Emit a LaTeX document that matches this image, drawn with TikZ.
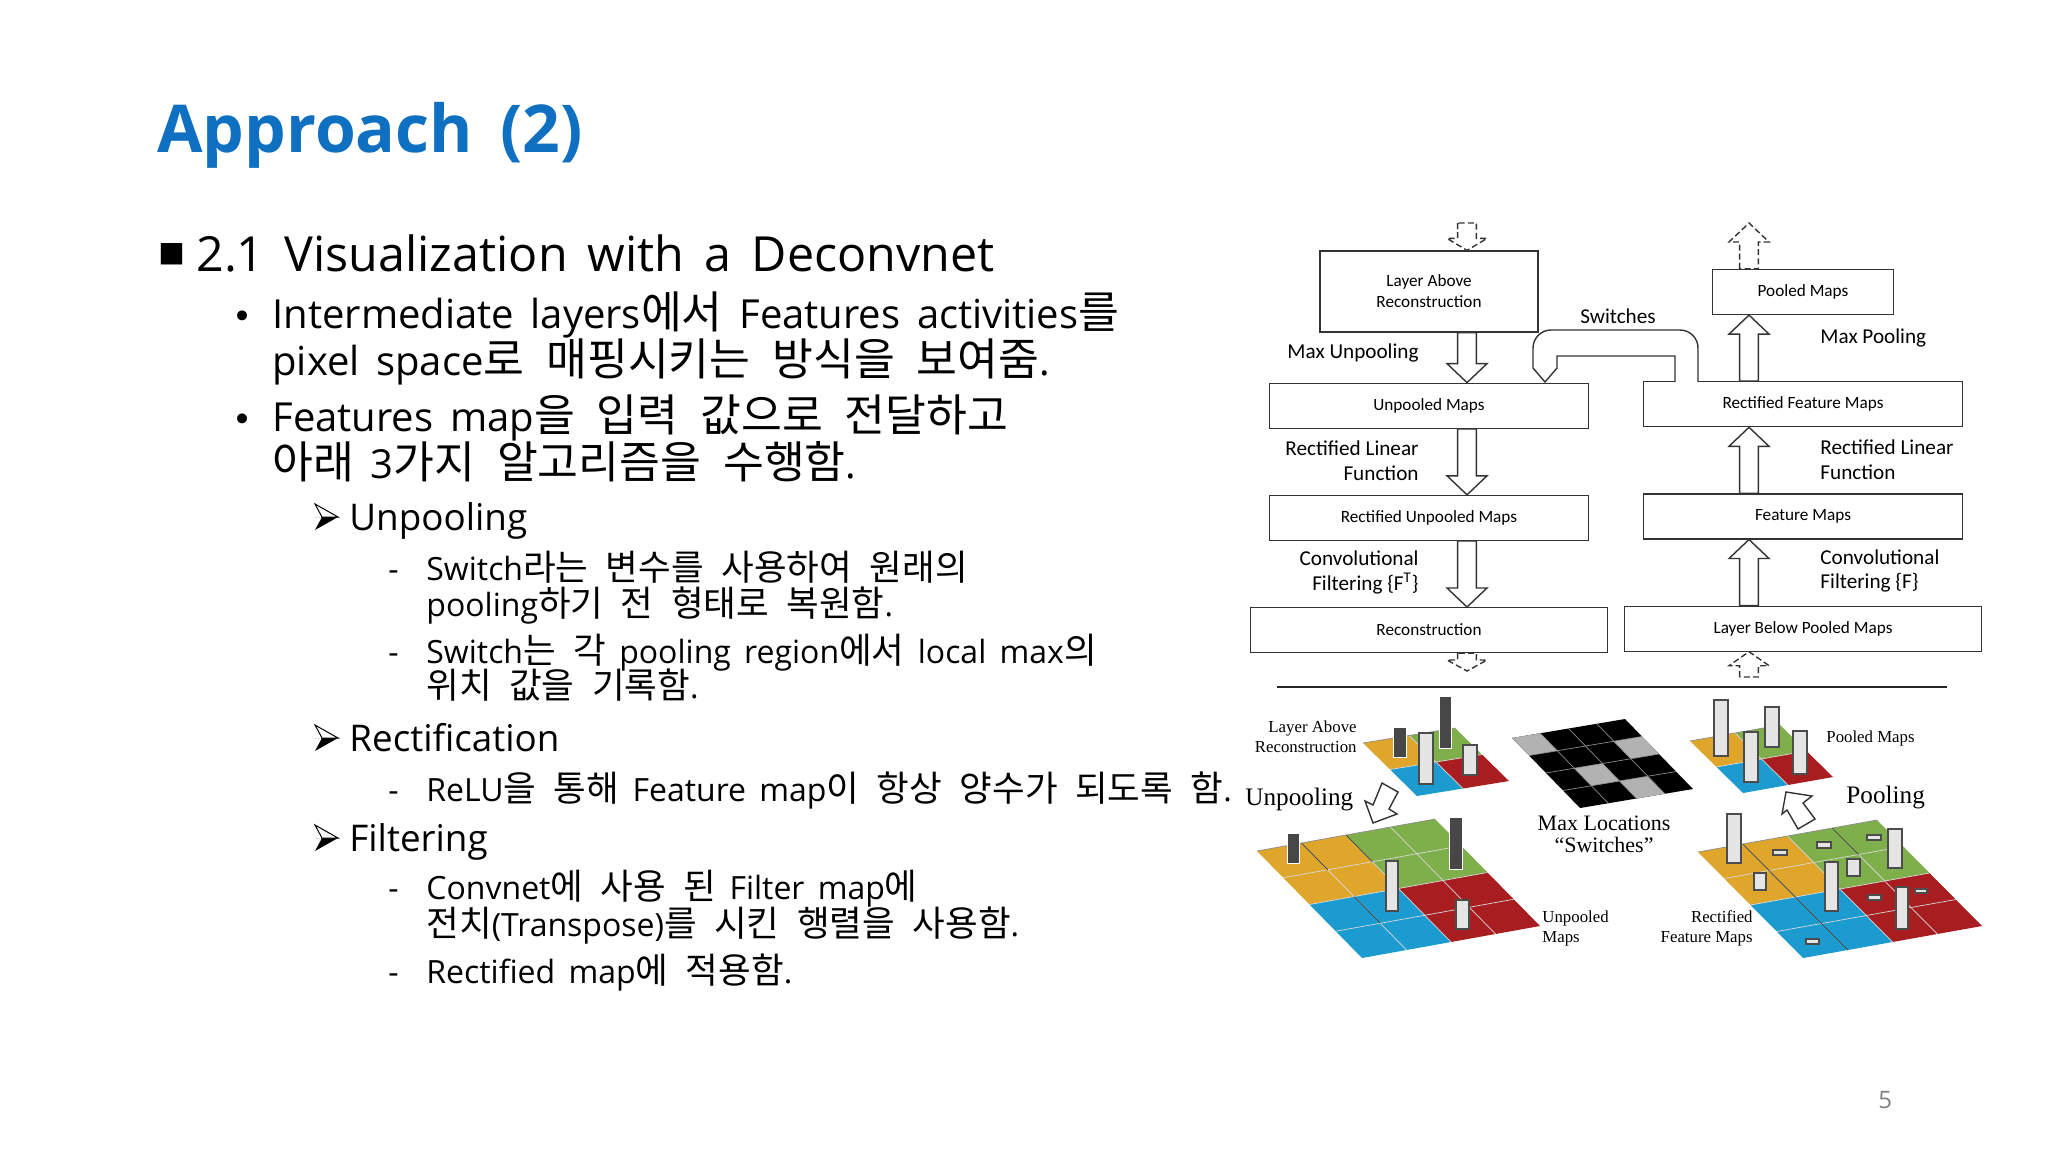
\documentclass[tikz,border=0pt]{standalone}
\usepackage{fontspec}
\setmainfont[WordSpace=1.6]{Open Sans}
\newfontfamily\krfont[Scale=1.11,WordSpace=2.2]{Noto Sans CJK KR}
\newfontfamily\symfont{DejaVu Sans}
\newfontfamily\boxfont{Carlito}
\newfontfamily\capfont{Liberation Serif}
\usetikzlibrary{calc}
\usetikzlibrary{positioning}
\newcommand{\kr}[1]{{\krfont #1}}
\definecolor{titleblue}{HTML}{0F6FC0}
\definecolor{mapyellow}{HTML}{DFA62B}
\definecolor{mapgreen}{HTML}{7FAF4B}
\definecolor{mapblue}{HTML}{1C9BD0}
\definecolor{mapred}{HTML}{A71D20}
% hollow block arrow: start, tip, head length
\newcommand{\blockarr}[4][]{%
  \draw[blockline,#1] let \p1=(#2),\p2=(#3),\n1={\y2>\y1 ? -#4 : #4} in
    (\x1-4.7pt,\y1) -- (\x1-4.7pt,\y2+\n1) -- (\x1-10pt,\y2+\n1) -- (\x2,\y2)
    -- (\x1+10pt,\y2+\n1) -- (\x1+4.7pt,\y2+\n1) -- (\x1+4.7pt,\y1) -- cycle;
}
% one parallelogram of a skewed map
\newcommand{\mapcell}[5]{%
  \fill[#1] (#2,#3) -- (#4,#3) -- (#4,#5) -- (#2,#5) -- cycle;
}
% coloured map: origin, two edge vectors, cell lines, dark lines
\newcommand{\colorgrid}[5]{%
  \begin{scope}[shift={(#1)},x={(#2)},y={(#3)}]
    \mapcell{mapyellow}{0}{0}{.5}{.5}
    \mapcell{mapgreen}{.5}{0}{1}{.5}
    \mapcell{mapblue}{0}{.5}{.5}{1}
    \mapcell{mapred}{.5}{.5}{1}{1}
    \foreach \s in {#4} {
      \draw[cellline] (\s,0) -- (\s,1);
      \draw[cellline] (0,\s) -- (1,\s);
    }
    \draw[cellline, draw = black!45] (0,0) -- (1,0);
    \foreach \c/\ra/\rb in {#5} {
      \draw[cellline, draw = black!80] (\c,\ra) -- (\c,\rb);
    }
  \end{scope}
}
% wedge bullet, on the baseline of a line of level three
\newcommand{\wedgebullet}[1]{%
  \fill[black] (#1) ++(-34,-13) -- ++(23,0) -- ++(-23,13) -- ++(7,-13) -- cycle;
  \draw[black, line width = .5pt, fill = white] (#1) ++(-34,-26) -- ++(23,13) -- ++(-16,0) -- cycle;
}
\tikzset {
  blockline/.style = {
    draw = black!80,
    line width = .7pt,
    fill = white,
    line join = miter
  },
  dashline/.style = {
    dash pattern = on 3pt off 1.6pt
  },
  cellline/.style = {
    draw = white!85!black,
    line width = .35pt
  },
  % boxes of the upper chart
  mapbox/.style = {
    draw = black!80,
    line width = .6pt,
    inner sep = 0,
    fill = white,
    minimum height = 22.5pt,
    font = \boxfont\fontsize{8.6}{10.5}\selectfont,
    align = center
  },
  steplabel/.style = {
    inner sep = 0,
    anchor = base,
    font = \boxfont\fontsize{10.6}{12}\selectfont
  },
  steplabelL/.style = {steplabel, anchor = base east},
  steplabelR/.style = {steplabel, anchor = base west},
  caption/.style = {
    inner sep = 0,
    font = \capfont\fontsize{8.4}{10}\selectfont
  },
  captionbig/.style = {
    inner sep = 0,
    font = \capfont\fontsize{12.6}{14}\selectfont
  },
  darkbar/.style = {
    draw = white,
    line width = .5pt,
    fill = black!72
  },
  lightbar/.style = {
    draw = black!70,
    line width = .7pt,
    fill = black!10
  },
  % slide text
  slidetext/.style = {
    inner sep = 0,
    anchor = base west,
    text = black
  },
  lvlone/.style = {slidetext, font = \fontsize{24.2}{28}\selectfont},
  lvltwo/.style = {slidetext, font = \fontsize{20}{23}\selectfont},
  lvlthree/.style = {slidetext, font = \fontsize{18.4}{22}\selectfont},
  lvlfour/.style = {slidetext, font = \fontsize{16}{19}\selectfont},
  node distance = 33pt
}
\begin{document}
\begin{tikzpicture}[x=.5pt,y=-.5pt]
  \useasboundingbox (0,0) rectangle (2048,1152);

  \node[slidetext, text = titleblue, font = \bfseries\fontsize{33}{38}\selectfont] (title) at (157,152) {Approach (2)};

  \node[lvlone, font = \symfont\fontsize{14}{16}\selectfont] (bulone) at (158,261) {■};
  \node[lvlone] (head) at (196,271) {2.1 Visualization with a Deconvnet};
  \node[lvltwo, font = \symfont\fontsize{17}{20}\selectfont] (bulone-a) at (232,328) {•};
  \node[lvltwo] (two-a) at (272,328) {Intermediate layers\kr{에서} Features activities\kr{를}};
  \node[lvltwo] (two-b) at (272,375) {pixel space\kr{로 매핑시키는 방식을 보여줌}.};
  \node[lvltwo, font = \symfont\fontsize{17}{20}\selectfont] (bulone-b) at (232,431) {•};
  \node[lvltwo] (two-c) at (272,431) {Features map\kr{을 입력 값으로 전달하고}};
  \node[lvltwo] (two-d) at (272,478) {\kr{아래} 3\kr{가지 알고리즘을 수행함}.};

  \node[lvlthree] (unpool) at (349,530) {Unpooling};
  \wedgebullet{unpool.base west}
  \node[lvlfour] (dash-a) at (388,580) {-};
  \node[lvlfour] (four-a) at (426,580) {Switch\kr{라는 변수를 사용하여 원래의}};
  \node[lvlfour] (four-b) at (426,616) {pooling\kr{하기 전 형태로 복원함}.};
  \node[lvlfour] (dash-b) at (388,663) {-};
  \node[lvlfour] (four-c) at (426,663) {Switch\kr{는 각} pooling region\kr{에서} local max\kr{의}};
  \node[lvlfour] (four-d) at (426,698) {\kr{위치 값을 기록함}.};
  \node[lvlthree] (rectif) at (349,751) {Rectification};
  \wedgebullet{rectif.base west}
  \node[lvlfour] (dash-c) at (388,801) {-};
  \node[lvlfour] (four-e) at (426,801) {ReLU\kr{을 통해} Feature map\kr{이 항상 양수가 되도록 함}.};
  \node[lvlthree] (filter) at (349,851) {Filtering};
  \wedgebullet{filter.base west}
  \node[lvlfour] (dash-d) at (388,899) {-};
  \node[lvlfour] (four-f) at (426,899) {Convnet\kr{에 사용 된} Filter map\kr{에}};
  \node[lvlfour] (four-g) at (426,936) {\kr{전치}(Transpose)\kr{를 시킨 행렬을 사용함}.};
  \node[lvlfour] (dash-e) at (388,983) {-};
  \node[lvlfour] (four-h) at (426,983) {Rectified map\kr{에 적용함}.};

  \node[slidetext, text = black!50, font = \fontsize{12}{14}\selectfont] (pagenum) at (1878,1108) {5};

  % left column
  \node[mapbox, minimum width = 109pt, minimum height = 40.5pt] (above) at (1429,291.5) {Layer Above\\Reconstruction};
  \node[mapbox, minimum width = 159.3pt] (unpooled) [below=25pt of above] {Unpooled Maps};
  \node[mapbox, minimum width = 159.3pt] (rectunpooled) [below=of unpooled] {Rectified Unpooled Maps};
  \node[mapbox, minimum width = 178.3pt] (recon) [below=of rectunpooled] {Reconstruction};
  % right column
  \node[mapbox, minimum width = 90.8pt] (pooled) at (1803,292) {Pooled Maps};
  \node[mapbox, minimum width = 159.3pt] (rectfeat) [below=of pooled] {Rectified Feature Maps};
  \node[mapbox, minimum width = 159.3pt] (feat) [below=of rectfeat] {Feature Maps};
  \node[mapbox, minimum width = 178.3pt] (below) [below=of feat] {Layer Below Pooled Maps};

  \coordinate (axisL) at (1467,0);
  \coordinate (axisR) at (1749,0);
  \coordinate (dashtopL) at (1467,223);
  \coordinate (dashtopR) at (1749,223);
  \coordinate (dashbotL) at (1467,671);
  \coordinate (dashbotR) at (1749,677);

  \blockarr{above.south -| axisL}{unpooled.north -| axisL}{9.5pt}
  \blockarr{unpooled.south -| axisL}{rectunpooled.north -| axisL}{9.5pt}
  \blockarr{rectunpooled.south -| axisL}{recon.north -| axisL}{9.5pt}
  \blockarr{below.north -| axisR}{feat.south -| axisR}{9.5pt}
  \blockarr{feat.north -| axisR}{rectfeat.south -| axisR}{9.5pt}
  \blockarr{rectfeat.north -| axisR}{pooled.south -| axisR}{9.5pt}
  \blockarr[dashline]{dashtopL}{above.north -| axisL}{6pt}
  \blockarr[dashline]{pooled.north -| axisR}{dashtopR}{9.5pt}
  \blockarr[dashline]{recon.south -| axisL}{dashbotL}{5.5pt}
  \blockarr[dashline]{dashbotR}{below.south -| axisR}{7pt}

  % switches
  \coordinate (swoutR) at (1698,382);
  \coordinate (swinR) at (1675,382);
  \coordinate (swtip) at (1545,382);
  \draw[blockline] (swinR) -- (1675,356) -- (1557,356) -- (1557,368) -- (swtip) -- (1533,368)
    [rounded corners=9pt] -- (1533,330) -- (1698,330) [sharp corners] -- (swoutR);

  \node[steplabelL] (maxunpool) at (1419,358) {Max Unpooling};
  \node[steplabelL] (rlfL-a) at (1419,455) {Rectified Linear};
  \node[steplabelL] (rlfL-b) at (1419,480) {Function};
  \node[steplabelL] (convL-a) at (1419,565) {Convolutional};
  \node[steplabelL] (convL-b) at (1419,590) {Filtering \{F\textsuperscript{T}\}};
  \node[steplabel] (switches) at (1618,323) {Switches};
  \node[steplabelR] (maxpool) at (1820,343) {Max Pooling};
  \node[steplabelR] (rlfR-a) at (1820,454) {Rectified Linear};
  \node[steplabelR] (rlfR-b) at (1820,479) {Function};
  \node[steplabelR] (convR-a) at (1820,564) {Convolutional};
  \node[steplabelR] (convR-b) at (1820,588) {Filtering \{F\}};

  \draw[black!85, line width = 1pt] (1277,687) -- (1947,687);

  % unpooling side
  \colorgrid{1363,743}{46pt,7.5pt}{27pt,-26.5pt}{.5}{}
  \draw[darkbar] (1393,727) rectangle (1406,757);
  \draw[lightbar] (1419,733) rectangle (1433,784);
  \draw[darkbar] (1439,696) rectangle (1451,748);
  \draw[lightbar] (1463,745) rectangle (1477,775);

  \draw[blockline] (1382,783) -- (1398,792) -- (1389,809) -- (1397,814) -- (1373,823) -- (1365,801) -- (1373,805) -- cycle;

  \colorgrid{1257,851}{89pt,16pt}{52.5pt,-53.5pt}{.25,.5,.75}{.25/0/.25,.5/0/.25,.25/.5/.75}
  \draw[darkbar] (1287,833) rectangle (1299,863);
  \draw[lightbar] (1386,861) rectangle (1398,911);
  \draw[darkbar] (1449,817) rectangle (1462,869);
  \draw[lightbar] (1456,900) rectangle (1469,929);

  % switch locations
  \begin{scope}[shift={(1512,738)},x={(56.5pt,9.5pt)},y={(34pt,-35pt)}]
    \mapcell{black}{0}{0}{1}{1}
    \mapcell{black!30}{0}{0}{.25}{.25}
    \mapcell{black!30}{.75}{.25}{1}{.5}
    \mapcell{black!30}{.25}{.5}{.5}{.75}
    \mapcell{black!30}{.5}{.75}{.75}{1}
    \foreach \s in {.25,.5,.75} {
      \draw[cellline, draw = black!45] (\s,0) -- (\s,1);
      \draw[cellline, draw = black!45] (0,\s) -- (1,\s);
    }
  \end{scope}

  % pooling side
  \colorgrid{1690,741}{45pt,8pt}{26.5pt,-26pt}{.5}{}
  \draw[lightbar] (1714,700) rectangle (1728,756);
  \draw[lightbar] (1765,707) rectangle (1779,747);
  \draw[lightbar] (1744,732) rectangle (1758,782);
  \draw[lightbar] (1793,731) rectangle (1807,774);

  \draw[blockline] (1786,792) -- (1812,796) -- (1803,803) -- (1815,819) -- (1798,829) -- (1787,810) -- (1782,814) -- cycle;

  \colorgrid{1698,852}{89.5pt,16pt}{52.5pt,-53pt}{.25,.5,.75}{.25/0/.5,.75/0/.25,.25/.5/1}
  \draw[lightbar] (1727,814) rectangle (1741,863);
  \draw[lightbar] (1754,873) rectangle (1766,890);
  \draw[lightbar] (1773,850) rectangle (1787,855);
  \draw[lightbar] (1817,842) rectangle (1831,848);
  \draw[lightbar] (1867,835) rectangle (1881,840);
  \draw[lightbar] (1888,829) rectangle (1902,868);
  \draw[lightbar] (1847,859) rectangle (1860,876);
  \draw[lightbar] (1825,862) rectangle (1838,911);
  \draw[lightbar] (1868,895) rectangle (1881,900);
  \draw[lightbar] (1896,887) rectangle (1908,929);
  \draw[lightbar] (1915,889) rectangle (1927,893);
  \draw[lightbar] (1806,939) rectangle (1819,944);

  \node[caption, anchor = base east, align = right] (cap-above) at (1357,732) {Layer Above};
  \node[caption, anchor = base east, align = right] (cap-recon) at (1357,752) {Reconstruction};
  \node[captionbig, anchor = base west] (cap-unpool) at (1245,805) {Unpooling};
  \node[captionbig, anchor = base, font = \capfont\fontsize{11}{13}\selectfont] (cap-maxloc) at (1604,830) {Max Locations};
  \node[captionbig, anchor = base, font = \capfont\fontsize{11}{13}\selectfont] (cap-switch) at (1604,852) {“Switches”};
  \node[caption, anchor = base west] (cap-unp-a) at (1542,922) {Unpooled};
  \node[caption, anchor = base west] (cap-unp-b) at (1542,942) {Maps};
  \node[caption, anchor = base west] (cap-pooled) at (1826,742) {Pooled Maps};
  \node[captionbig, anchor = base west] (cap-pool) at (1846,803) {Pooling};
  \node[caption, anchor = base east] (cap-rect-a) at (1753,922) {Rectified};
  \node[caption, anchor = base east] (cap-rect-b) at (1753,942) {Feature Maps};
\end{tikzpicture}
\end{document}
